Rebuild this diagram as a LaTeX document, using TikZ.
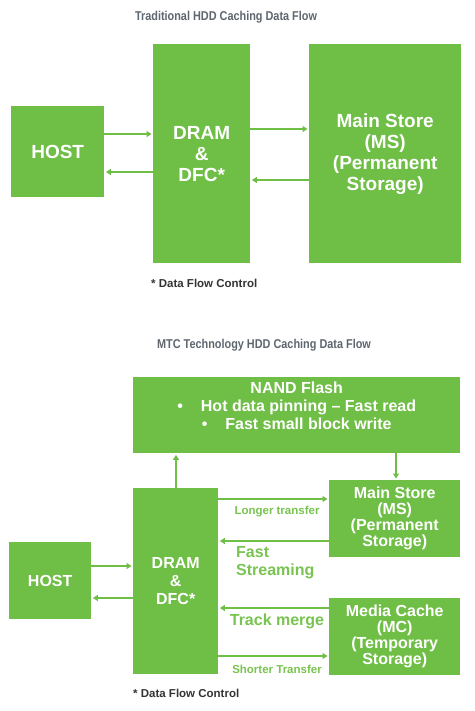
\documentclass[tikz,border=0pt]{standalone}
\usepackage{fontspec}
\setmainfont{Liberation Sans}
\newfontfamily\condfont[FakeStretch=0.85]{Liberation Sans}
\usetikzlibrary{arrows.meta,calc}
\definecolor{gr}{HTML}{6FBE46}
\definecolor{lbl}{HTML}{79C450}
\definecolor{ttl}{HTML}{5E6670}
\definecolor{note}{HTML}{333333}
\tikzset{
  box/.style={fill=gr, draw=none, text=white, align=center, inner sep=0pt, anchor=north west},
  bigtxt/.style={font=\fontsize{19}{21}\selectfont\bfseries},
  midtxt/.style={font=\fontsize{16}{18}\selectfont\bfseries},
  mstxt/.style={font=\fontsize{16}{16}\selectfont\bfseries},
  arr/.style={draw=gr, line width=2pt, shorten >=1.5pt, -{Triangle[length=5pt,width=6pt]}},
  ttlstyle/.style={text=ttl, font=\condfont\fontsize{12.8}{14}\selectfont\bfseries, inner sep=0pt},
  notestyle/.style={text=note, font=\fontsize{11.5}{13}\selectfont\bfseries, inner sep=0pt, anchor=west},
  smalllbl/.style={text=lbl, font=\fontsize{11.5}{13}\selectfont\bfseries, inner sep=0pt},
  biglbl/.style={text=lbl, font=\fontsize{16}{18}\selectfont\bfseries, inner sep=0pt, align=left}
}
\begin{document}
\begin{tikzpicture}[x=1pt, y=-1pt]
\useasboundingbox (0,0) rectangle (474,711);
\fill[white] (0,0) rectangle (474,711);

% ---------- Traditional ----------
\node[ttlstyle] (ttitle) at (226,17) {Traditional HDD Caching Data Flow};
\node[box, bigtxt, minimum width=93, minimum height=91] (thost) at (11,106) {HOST};
\node[box, bigtxt, minimum width=97, minimum height=219] (tdram) at (153,44) {DRAM\\\&\\DFC*};
\node[box, bigtxt, minimum width=152, minimum height=219] (tms) at (309,44) {Main Store\\(MS)\\(Permanent\\Storage)};
\draw[arr] (thost.east |- 0,134) -- (tdram.west |- 0,134);
\draw[arr] (tdram.west |- 0,172) -- (thost.east |- 0,172);
\draw[arr] (tdram.east |- 0,129) -- (tms.west |- 0,129);
\draw[arr] (tms.west |- 0,180) -- (tdram.east |- 0,180);
\node[notestyle] (tnote) at (151,283) {* Data Flow Control};

% ---------- MTC ----------
\node[ttlstyle] (mtitle) at (264,345) {MTC Technology HDD Caching Data Flow};
\node[box, minimum width=327, minimum height=76] (nand) at (133,377) {};
\node[midtxt, text=white, align=center, inner sep=0pt] (nandtxt) at ($(nand.center)+(0,-9)$) {NAND Flash\\\textbullet\hspace{18pt}Hot data pinning – Fast read\\\textbullet\hspace{18pt}Fast small block write};
\node[box, midtxt, minimum width=85, minimum height=186] (mdram) at (133,488) {DRAM\\\&\\DFC*};
\node[box, midtxt, minimum width=82, minimum height=77] (mhost) at (9,542) {HOST};
\node[box, mstxt, minimum width=131, minimum height=77] (mms) at (329,480) {Main Store\\(MS)\\(Permanent\\Storage)};
\node[box, mstxt, minimum width=131, minimum height=77] (mmc) at (329,598) {Media Cache\\(MC)\\(Temporary\\Storage)};

\draw[arr] (mdram.north -| 176,0) -- (nand.south -| 176,0);
\draw[arr] (nand.south -| 396,0) -- (mms.north -| 396,0);
\draw[arr] (mhost.east |- 0,566) -- (mdram.west |- 0,566);
\draw[arr] (mdram.west |- 0,598) -- (mhost.east |- 0,598);
\draw[arr] (mdram.east |- 0,499) -- (mms.west |- 0,499);
\draw[arr] (mms.west |- 0,541) -- (mdram.east |- 0,541);
\draw[arr] (mmc.west |- 0,608) -- (mdram.east |- 0,608);
\draw[arr] (mdram.east |- 0,656) -- (mmc.west |- 0,656);

\node[smalllbl] (llong) at (277,512) {Longer transfer};
\node[biglbl, anchor=north west] (lfast) at (236,546) {Fast\\Streaming};
\node[biglbl] (ltrack) at (277,621) {Track merge};
\node[smalllbl] (lshort) at (277,669) {Shorter Transfer};
\node[notestyle] (mnote) at (133,693) {* Data Flow Control};
\end{tikzpicture}
\end{document}
